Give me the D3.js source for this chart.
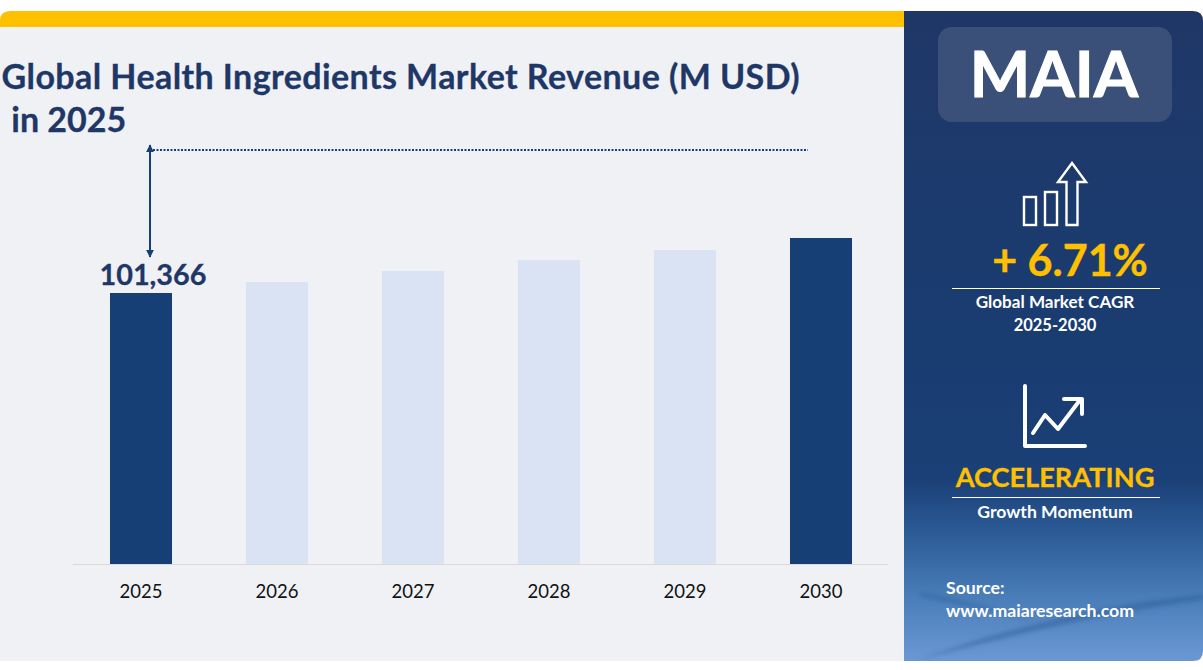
<!DOCTYPE html>
<html>
<head>
<meta charset="utf-8">
<script src="https://cdnjs.cloudflare.com/ajax/libs/d3/7.8.5/d3.min.js"></script>
<style>
html, body { margin: 0; padding: 0; background: #fff; }
svg { display: block; }
text { font-family: Lato, "Open Sans", sans-serif; }
</style>
</head>
<body>
<div id="chart"></div>
<script>
var years = ["2025", "2026", "2027", "2028", "2029", "2030"];
var revenue = [101366, 105480, 109600, 113700, 117450, 121940];
var highlighted = ["2025", "2030"];
var titleLines = ["Global Health Ingredients Market Revenue (M USD)", " in 2025"];

var svgRoot = d3.select("#chart").append("svg")
    .attr("width", 1203)
    .attr("height", 670);

var defs = svgRoot.append("defs");

var sideGrad = defs.append("linearGradient")
    .attr("id", "sideGrad")
    .attr("x1", 0).attr("y1", 0).attr("x2", 0).attr("y2", 1);
[[0, "#1f3767"], [0.55, "#193d72"], [0.72, "#1b4077"], [0.8, "#2b5a94"], [0.9, "#497db8"], [1, "#6b98d4"]]
    .forEach(function(s) {
        sideGrad.append("stop").attr("offset", s[0]).attr("stop-color", s[1]);
    });

defs.append("filter").attr("id", "soft")
    .append("feGaussianBlur").attr("stdDeviation", 2);

defs.append("marker")
    .attr("id", "arrowHead")
    .attr("viewBox", "0 0 10 10")
    .attr("refX", 9).attr("refY", 5)
    .attr("markerWidth", 8).attr("markerHeight", 9)
    .attr("markerUnits", "userSpaceOnUse")
    .attr("orient", "auto-start-reverse")
    .append("path").attr("d", "M0,0 L10,5 L0,10 Z").attr("fill", "#163f75");

// main card
svgRoot.append("path")
    .attr("d", "M0,21 Q0,11 10,11 H904 V661 H0 Z")
    .attr("fill", "#eff1f5");
svgRoot.append("path")
    .attr("d", "M0,27 V21 Q0,11 10,11 H904 V27 Z")
    .attr("fill", "#ffc000");

// side panel
svgRoot.append("path")
    .attr("d", "M904,11 H1193 Q1203,11 1203,21 V651 Q1203,661 1193,661 H904 Z")
    .attr("fill", "url(#sideGrad)");
var waves = svgRoot.append("g").attr("filter", "url(#soft)");
waves.append("path")
    .attr("d", "M918,660 C1000,630 1100,605 1203,594 L1203,600 C1110,612 1010,635 918,660 Z")
    .attr("fill", "#2f5f98").attr("opacity", 0.55);
waves.append("path")
    .attr("d", "M920,592 C960,598 1000,610 1040,622 C1000,614 960,604 920,597 Z")
    .attr("fill", "#2f5f98").attr("opacity", 0.45);

// chart
var xScale = d3.scaleBand()
    .domain(years)
    .range([73, 889])
    .paddingInner(0.544)
    .paddingOuter(0.272);
var yScale = d3.scaleLinear()
    .domain([0, revenue[0]])
    .range([564, 293]);

svgRoot.append("g").selectAll("rect")
    .data(years)
    .join("rect")
    .attr("x", function(d) { return xScale(d); })
    .attr("y", function(d, i) { return yScale(revenue[i]); })
    .attr("width", xScale.bandwidth())
    .attr("height", function(d, i) { return yScale(0) - yScale(revenue[i]); })
    .attr("fill", function(d) { return highlighted.indexOf(d) >= 0 ? "#163f75" : "#dae3f3"; });

var xAxis = svgRoot.append("g")
    .attr("transform", "translate(0,564)")
    .call(d3.axisBottom(xScale).tickSize(0).tickPadding(21));
xAxis.select(".domain").attr("stroke", "#d9d9d9").attr("stroke-width", 1).attr("d", "M73,0.5H888");
xAxis.selectAll("text")
    .attr("fill", "#111")
    .style("font-family", "Lato")
    .style("font-size", "18.5px");

// title
svgRoot.append("g").selectAll("text")
    .data(titleLines)
    .join("text")
    .attr("x", function(d, i) { return i === 0 ? 1.5 : 3; })
    .attr("y", function(d, i) { return 89 + i * 43; })
    .attr("xml:space", "preserve")
    .attr("fill", "#1f3767")
    .attr("stroke", "#1f3767")
    .attr("stroke-width", 0.3)
    .attr("font-weight", 700)
    .attr("font-size", 34)
    .attr("letter-spacing", function(d, i) { return i === 0 ? 0.42 : 0; })
    .text(function(d) { return d; });

// value label and arrow
svgRoot.append("text")
    .attr("x", 153).attr("y", 285)
    .attr("text-anchor", "middle")
    .attr("fill", "#1f3767")
    .attr("stroke", "#1f3767")
    .attr("stroke-width", 0.3)
    .attr("font-weight", 700)
    .attr("font-size", 28.8)
    .text(d3.format(",")(revenue[0]));

svgRoot.append("line")
    .attr("x1", 150).attr("x2", 150)
    .attr("y1", 145).attr("y2", 257)
    .attr("stroke", "#163f75").attr("stroke-width", 2)
    .attr("marker-start", "url(#arrowHead)")
    .attr("marker-end", "url(#arrowHead)");
svgRoot.append("line")
    .attr("x1", 153).attr("x2", 808)
    .attr("y1", 150).attr("y2", 150)
    .attr("stroke", "#163f75").attr("stroke-width", 2)
    .attr("stroke-dasharray", "2 1.5");

// logo box
svgRoot.append("rect")
    .attr("x", 938).attr("y", 27)
    .attr("width", 234).attr("height", 95)
    .attr("rx", 14)
    .attr("fill", "#3a5079");
svgRoot.append("text")
    .attr("x", 1054).attr("y", 97)
    .attr("text-anchor", "middle")
    .attr("fill", "#fff")
    .attr("stroke", "#fff")
    .attr("stroke-width", 1)
    .attr("font-weight", 700)
    .attr("font-size", 64)
    .text("MAIA");

// bars + arrow icon
var icon1 = svgRoot.append("g")
    .attr("fill", "none").attr("stroke", "#fff").attr("stroke-width", 2.4);
icon1.append("rect").attr("x", 1024).attr("y", 197).attr("width", 12).attr("height", 28);
icon1.append("rect").attr("x", 1045).attr("y", 192).attr("width", 12).attr("height", 33);
icon1.append("path")
    .attr("d", "M1066.5,225 V182 H1058 L1072,163 L1086,182 H1077.5 V225 Z");

svgRoot.append("text")
    .attr("x", 1070).attr("y", 276)
    .attr("text-anchor", "middle")
    .attr("fill", "#ffc000")
    .attr("stroke", "#ffc000")
    .attr("stroke-width", 0.4)
    .attr("font-weight", 700)
    .attr("font-size", 43)
    .text("+ 6.71%");

// line chart icon
var icon2 = svgRoot.append("g")
    .attr("fill", "none").attr("stroke", "#fff").attr("stroke-width", 4)
    .attr("stroke-linecap", "round").attr("stroke-linejoin", "round");
icon2.append("path").attr("d", "M1025,386 V446 H1085");
icon2.append("path").attr("d", "M1033,433 L1045,415 L1058,429 L1080,400");
icon2.append("path").attr("d", "M1064,399 H1082 V414");

svgRoot.append("text")
    .attr("x", 1055).attr("y", 487)
    .attr("text-anchor", "middle")
    .attr("fill", "#ffc000")
    .attr("stroke", "#ffc000")
    .attr("stroke-width", 0.3)
    .attr("font-weight", 700)
    .attr("font-size", 27.2)
    .text("ACCELERATING");

// separators
svgRoot.append("g").selectAll("line")
    .data([288.5, 497.5])
    .join("line")
    .attr("x1", 952).attr("x2", 1160)
    .attr("y1", function(d) { return d; })
    .attr("y2", function(d) { return d; })
    .attr("stroke", "#fff").attr("stroke-width", 1);

var sideText = [
    ["Global Market CAGR", 1055, 308, "middle", 17.1],
    ["2025-2030", 1055, 331, "middle", 16.5],
    ["Growth Momentum", 1055, 518, "middle", 17.6],
    ["Source:", 946, 594, "start", 17.7],
    ["www.maiaresearch.com", 946, 617, "start", 17.7]
];
svgRoot.append("g").selectAll("text")
    .data(sideText)
    .join("text")
    .attr("x", function(d) { return d[1]; })
    .attr("y", function(d) { return d[2]; })
    .attr("text-anchor", function(d) { return d[3]; })
    .attr("fill", "#fff")
    .attr("font-weight", 700)
    .attr("font-size", function(d) { return d[4]; })
    .text(function(d) { return d[0]; });
</script>
</body>
</html>
